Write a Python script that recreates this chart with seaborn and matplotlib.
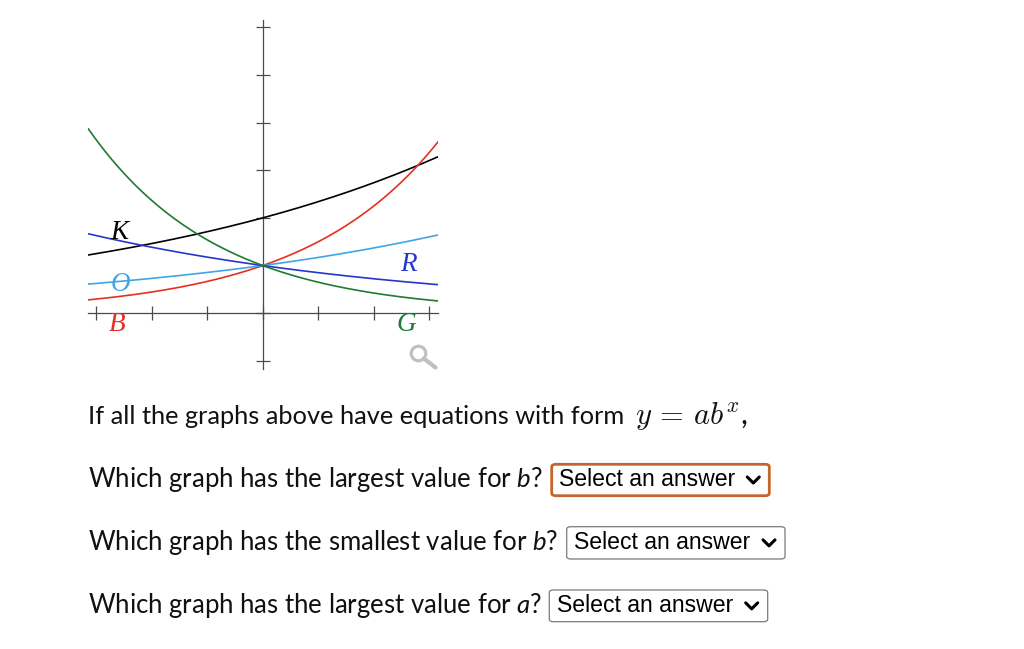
import numpy as np
import pandas as pd
import seaborn as sns
import matplotlib.pyplot as plt
from matplotlib.patches import FancyBboxPatch
from matplotlib.lines import Line2D

# curves y = a * b**x
labels = ["K", "B", "O", "R", "G"]
a_vals = [2.0, 1.0, 1.0, 1.0, 1.0]
b_vals = [1.17, 1.50, 1.17, 0.85, 0.65]
colors = ["#000000", "#e5301f", "#3ea6e6", "#2536d0", "#1f7a34"]

x_ticks = [-3, -2, -1, 0, 1, 2, 3]
y_ticks = [-1, 0, 1, 2, 3, 4, 5, 6]

intro = "If all the graphs above have equations with form"
intro_math = "$y\\,=\\,ab^{x}$,"
questions = ["Which graph has the largest value for $b$?",
             "Which graph has the smallest value for $b$?",
             "Which graph has the largest value for $a$?"]
answer_text = "Select an answer"

# build long table for seaborn
xs = np.linspace(-3.14, 3.16, 300)
rows = []
for lab, a, b in zip(labels, a_vals, b_vals):
    for x in xs:
        rows.append((lab, x, a * b ** x))
df = pd.DataFrame(rows, columns=["graph", "x", "y"])

sns.set_style("white")
plt.rcParams['font.family'] = ['Lato', 'DejaVu Sans']
plt.rcParams['mathtext.fontset'] = 'custom'
plt.rcParams['mathtext.rm'] = 'Lato'
plt.rcParams['mathtext.it'] = 'Lato:italic'

W, H = 1024, 649
fig = plt.figure(figsize=(W / 100, H / 100), dpi=100)
fx = lambda px: px / W
fy = lambda py: 1 - py / H

ax = fig.add_axes([fx(88.3), fy(369), fx(438.3) - fx(88.3), fy(20) - fy(369)])
ax.set_facecolor("none")
sns.lineplot(data=df, x="x", y="y", hue="graph", palette=dict(zip(labels, colors)),
             hue_order=labels, linewidth=1.2, legend=False, ax=ax, zorder=3)
ax.set_xlim(-3.14, 3.16)
ax.set_ylim(-1.17, 6.15)

for side in ["top", "right"]:
    ax.spines[side].set_visible(False)
for side in ["left", "bottom"]:
    ax.spines[side].set_position("zero")
    ax.spines[side].set_color("#4a4a4a")
    ax.spines[side].set_linewidth(0.9)
ax.set_xticks(x_ticks)
ax.set_yticks(y_ticks)
ax.tick_params(bottom=True, left=True, direction="inout", length=9.5, width=0.9,
               color="#4a4a4a", labelbottom=False, labelleft=False)
ax.set_xlabel("")
ax.set_ylabel("")

# curve labels
label_pos = {"K": (-2.58, 1.69), "R": (2.62, 1.03), "O": (-2.57, 0.61),
             "B": (-2.62, -0.24), "G": (2.59, -0.24)}
for lab, col in zip(labels, colors):
    px, py = label_pos[lab]
    ax.text(px, py, lab, color=col, fontsize=19.5, style="italic",
            family="Liberation Serif", ha="center", va="center", zorder=4)

# magnifier icon
fig.lines.append(Line2D([fx(418.3)], [fy(352.7)], transform=fig.transFigure,
                        marker="o", markersize=10.5, mfc="none", mec="#c0c0c0", mew=2.3))
fig.lines.append(Line2D([fx(423.8), fx(435.5)], [fy(358.5), fy(367.5)],
                        transform=fig.transFigure, color="#c0c0c0", lw=3,
                        solid_capstyle="round"))

# text
fig.text(fx(88), fy(424.3), intro, fontsize=18.3, color="#111111")
fig.text(fx(635), fy(424.3), intro_math, fontsize=22, color="#111111",
         math_fontfamily="cm")
baselines = [487, 550, 613]
for q, yb in zip(questions, baselines):
    fig.text(fx(88), fy(yb), q, fontsize=18.5, color="#111111")

# select boxes
boxes = [(551.7, 464.3, 769.3, 495.7), (566.7, 526.7, 785, 559), (549.3, 590, 767.7, 621.7)]
for i, (x0, y0, x1, y1) in enumerate(boxes):
    ec, lw = ("#c4652b", 2.0) if i == 0 else ("#7a7a7a", 0.9)
    fig.patches.append(FancyBboxPatch((fx(x0), fy(y1)), fx(x1) - fx(x0), fy(y0) - fy(y1),
                                      boxstyle="round,pad=0,rounding_size=0.004",
                                      transform=fig.transFigure, fill=False, ec=ec, lw=lw))
    fig.text(fx(x0 + 7.5), fy((y0 + y1) / 2), answer_text, fontsize=16.6,
             family="Liberation Sans", va="center", color="#000000")
    cx = x1 - 16
    cy = (y0 + y1) / 2
    fig.lines.append(Line2D([fx(cx - 6), fx(cx), fx(cx + 6)], [fy(cy - 3), fy(cy + 3), fy(cy - 3)],
                            transform=fig.transFigure, color="#000000", lw=2.2))

fig.savefig("out.png", dpi=100)
